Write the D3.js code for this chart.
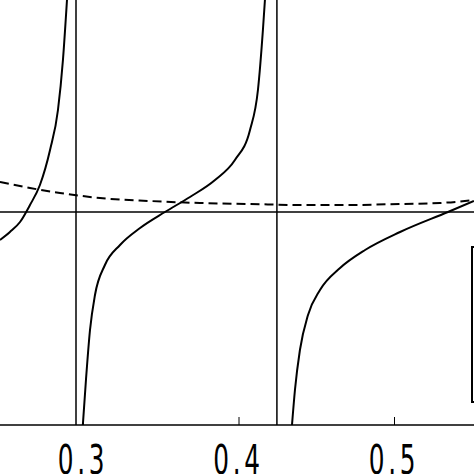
<!DOCTYPE html><html><head><meta charset="utf-8"><script src="https://cdn.jsdelivr.net/npm/d3@7"></script>
<style>body{margin:0;background:#fff}</style></head><body><svg id="c" width="474" height="474"></svg>
<script>
const xTicks=[0.3,0.4,0.5];
const tickLabels=["0.3","0.4","0.5"];
const asymptotes=[0.2955,0.4247];
const branch1=[[0.2466,-0.28],[0.2530,-0.20],[0.2595,-0.10],[0.2659,0.07],[0.2723,0.27],[0.2788,0.62],[0.2839,1.02],[0.2871,1.52],[0.2897,2.12]];
const branch2=[[0.2999,-2.13],[0.3019,-1.68],[0.3045,-1.18],[0.3077,-0.83],[0.3141,-0.53],[0.3238,-0.33],[0.3367,-0.16],[0.3527,0],[0.3688,0.15],[0.3849,0.32],[0.3977,0.52],[0.4074,0.82],[0.4125,1.22],[0.4157,1.82],[0.4170,2.12]];
const branch3=[[0.4344,-2.13],[0.4363,-1.78],[0.4395,-1.38],[0.4447,-1.03],[0.4524,-0.78],[0.4653,-0.56],[0.4814,-0.38],[0.5039,-0.20],[0.5347,0],[0.5514,0.11]];
const dashed=[[0.2466,0.30],[0.2659,0.24],[0.2852,0.19],[0.3109,0.14],[0.3431,0.11],[0.3752,0.09],[0.4074,0.08],[0.4395,0.07],[0.4717,0.07],[0.5039,0.08],[0.5296,0.09],[0.5514,0.12]];
const svg=d3.select("#c");
const x=d3.scaleLinear().domain([0.3,0.5]).range([83,394]);
const y=d3.scaleLinear().domain([-2.13,2.12]).range([425,0]);
const g=svg.append("g");
g.append("defs").append("clipPath").attr("id","cp").append("rect").attr("x",0).attr("y",0).attr("width",474).attr("height",425);
const line=d3.line().x(d=>x(d[0])).y(d=>y(d[1])).curve(d3.curveMonotoneX);
const p=g.append("g").attr("clip-path","url(#cp)");
[branch1,branch2,branch3].forEach(b=>p.append("path").attr("d",line(b)).attr("fill","none").attr("stroke","#000").attr("stroke-width",2));
p.append("path").attr("d",line(dashed)).attr("fill","none").attr("stroke","#000").attr("stroke-width",2).attr("stroke-dasharray","9,5");
g.append("line").attr("x1",0).attr("x2",474).attr("y1",y(0)).attr("y2",y(0)).attr("stroke","#000").attr("stroke-width",1.5);
asymptotes.forEach(a=>g.append("line").attr("x1",x(a)).attr("x2",x(a)).attr("y1",0).attr("y2",425).attr("stroke","#000").attr("stroke-width",1.5));
g.append("rect").attr("x",472).attr("y",247).attr("width",10).attr("height",155).attr("fill","none").attr("stroke","#000").attr("stroke-width",2);
const ax=g.append("g").attr("transform","translate(0,425)").call(d3.axisTop(x).tickValues(xTicks).tickSize(8).tickFormat(""));
ax.select(".domain").attr("d","M0,0H474").attr("stroke-width",1.5);
ax.selectAll("line").attr("stroke-width",1);
xTicks.forEach((t,i)=>g.append("text").attr("transform",`translate(${x(t)},474) scale(0.62,1)`).attr("text-anchor","middle").attr("font-family","DejaVu Sans").attr("font-size",40).attr("letter-spacing","6").text(tickLabels[i]));
</script></body></html>
